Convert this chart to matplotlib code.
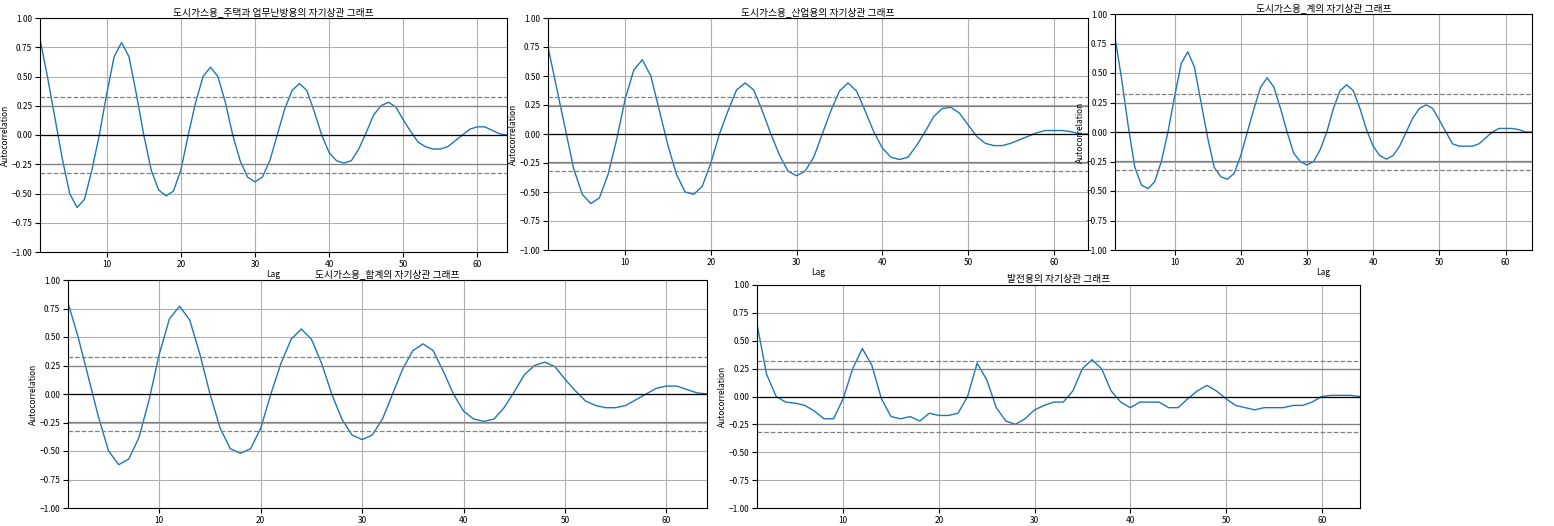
import matplotlib
matplotlib.use("Agg")
import matplotlib.pyplot as plt
import numpy as np

plt.rcParams['font.family'] = ['Noto Sans CJK KR', 'DejaVu Sans']

titles = ["도시가스용_주택과 업무난방용의 자기상관 그래프",
          "도시가스용_산업용의 자기상관 그래프",
          "도시가스용_계의 자기상관 그래프",
          "도시가스용_합계의 자기상관 그래프",
          "발전용의 자기상관 그래프"]

acf1 = [0.82,0.5,0.15,-0.2,-0.5,-0.62,-0.55,-0.3,0.0,0.35,0.67,0.79,0.67,0.35,0.0,-0.3,-0.47,-0.52,-0.48,-0.3,0.0,0.28,0.5,0.58,0.5,0.28,0.0,-0.22,-0.36,-0.4,-0.36,-0.22,0.0,0.22,0.38,0.44,0.38,0.2,0.0,-0.15,-0.22,-0.24,-0.22,-0.12,0.02,0.17,0.25,0.28,0.24,0.13,0.03,-0.06,-0.1,-0.12,-0.12,-0.1,-0.05,0.0,0.05,0.07,0.07,0.04,0.01,0.0]
acf2 = [0.75,0.4,0.05,-0.3,-0.52,-0.6,-0.55,-0.35,-0.05,0.3,0.55,0.64,0.5,0.2,-0.1,-0.35,-0.5,-0.52,-0.45,-0.25,0.0,0.2,0.38,0.44,0.38,0.2,0.0,-0.18,-0.32,-0.36,-0.32,-0.2,0.0,0.2,0.37,0.44,0.37,0.2,0.02,-0.12,-0.2,-0.22,-0.2,-0.1,0.02,0.15,0.22,0.23,0.18,0.08,-0.02,-0.08,-0.1,-0.1,-0.08,-0.05,-0.02,0.01,0.03,0.03,0.03,0.02,0.0,0.0]
acf3 = [0.8,0.45,0.05,-0.3,-0.45,-0.48,-0.42,-0.25,0.0,0.3,0.58,0.68,0.55,0.25,-0.05,-0.3,-0.38,-0.4,-0.35,-0.2,0.0,0.2,0.38,0.46,0.38,0.2,0.0,-0.18,-0.25,-0.28,-0.25,-0.15,0.0,0.2,0.35,0.4,0.35,0.2,0.02,-0.12,-0.2,-0.23,-0.2,-0.12,0.0,0.12,0.2,0.23,0.2,0.1,0.0,-0.1,-0.12,-0.12,-0.12,-0.1,-0.05,0.0,0.03,0.03,0.03,0.02,0.0,0.0]
acf4 = [0.8,0.5,0.15,-0.2,-0.5,-0.62,-0.57,-0.38,-0.05,0.35,0.66,0.77,0.65,0.35,0.0,-0.3,-0.48,-0.52,-0.48,-0.3,0.0,0.27,0.48,0.57,0.48,0.27,0.0,-0.22,-0.36,-0.4,-0.36,-0.22,0.0,0.22,0.38,0.44,0.38,0.2,0.0,-0.15,-0.22,-0.24,-0.22,-0.12,0.02,0.17,0.25,0.28,0.24,0.13,0.03,-0.06,-0.1,-0.12,-0.12,-0.1,-0.05,0.0,0.05,0.07,0.07,0.04,0.01,0.0]
acf5 = [0.65,0.2,0.0,-0.05,-0.06,-0.08,-0.13,-0.2,-0.2,-0.02,0.25,0.43,0.28,-0.02,-0.18,-0.2,-0.18,-0.22,-0.15,-0.17,-0.17,-0.15,0.0,0.3,0.15,-0.1,-0.22,-0.25,-0.2,-0.12,-0.08,-0.05,-0.05,0.05,0.25,0.33,0.25,0.05,-0.05,-0.1,-0.05,-0.05,-0.05,-0.1,-0.1,-0.02,0.05,0.1,0.05,-0.02,-0.08,-0.1,-0.12,-0.1,-0.1,-0.1,-0.08,-0.08,-0.05,0.0,0.01,0.01,0.01,0.0]
series = [acf1, acf2, acf3, acf4, acf5]

W, H = 1554, 526
boxes = [(40,18,507,252),(548,18,1088,250),(1115,14,1532,250),(68,280,707,508),(757,285,1360,508)]
fig = plt.figure(figsize=(W/100, H/100), dpi=100)
n = 64
z95 = 1.959963984540054/np.sqrt(n)
z99 = 2.5758293035489/np.sqrt(n)
for (x0,y0,x1,y1), t, s in zip(boxes, titles, series):
    ax = fig.add_axes([x0/W, 1-y1/H, (x1-x0)/W, (y1-y0)/H])
    lags = np.arange(1, len(s)+1)
    ax.plot(lags, s, color='#1f77b4', lw=1)
    ax.axhline(z99, ls='--', color='grey', lw=0.9)
    ax.axhline(z95, color='grey', lw=0.9)
    ax.axhline(0, color='black', lw=0.9)
    ax.axhline(-z95, color='grey', lw=0.9)
    ax.axhline(-z99, ls='--', color='grey', lw=0.9)
    ax.set_xlim(1, len(s))
    ax.set_ylim(-1, 1)
    ax.set_yticks(np.arange(-1, 1.01, 0.25))
    ax.grid(True)
    ax.set_title(t, fontsize=7, pad=2)
    ax.set_xlabel("Lag", fontsize=6, labelpad=1)
    ax.set_ylabel("Autocorrelation", fontsize=6, labelpad=1)
    ax.tick_params(labelsize=6, pad=2)
fig.savefig("out.png", dpi=100)
